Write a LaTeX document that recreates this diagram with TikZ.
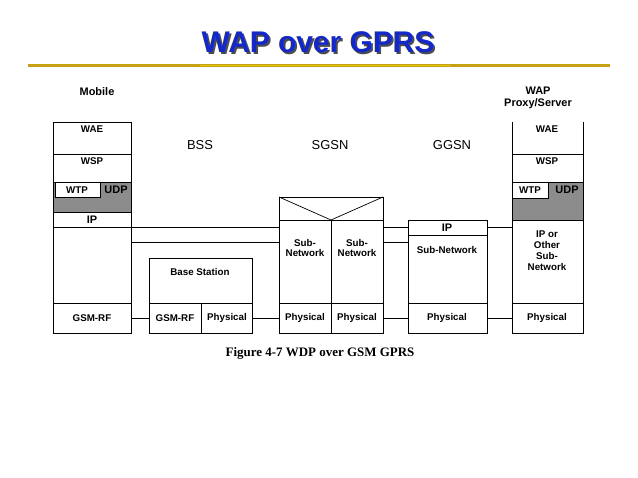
\documentclass[tikz,border=0pt]{standalone}
\usepackage{fontspec}
\setmainfont{Liberation Sans}
\newfontfamily\serifb{Liberation Serif}
\begin{document}
\begin{tikzpicture}[x=1bp,y=-1bp,line width=0.7bp,
  lbl/.style={font=\bfseries\fontsize{9.8}{11}\selectfont,align=center,inner sep=0},
  big/.style={font=\bfseries\fontsize{11}{12.5}\selectfont,align=center,inner sep=0},
  hdr/.style={font=\fontsize{13}{15}\selectfont,inner sep=0}]
\useasboundingbox (0,0) rectangle (638,478);
\definecolor{titleblue}{RGB}{20,40,200}
\definecolor{gold}{RGB}{200,160,20}
% title
\node[font=\bfseries\fontsize{30}{33}\selectfont,text=black!70] (tsh) at (320,44) {WAP over GPRS};
\node[font=\bfseries\fontsize{30}{33}\selectfont,text=titleblue] (title) at (318,42) {WAP over GPRS};
\fill[gold] (28,64.5) rectangle (610,67.5);
\fill[gold!60!yellow] (200,65) rectangle (450,66.5);
% headers
\node[big] (mob) at (97,92) {Mobile};
\node[big] (wap) at (538,98) {WAP\\Proxy/Server};
\node[hdr] (bss) at (200,145) {BSS};
\node[hdr] (sgsn) at (330,145) {SGSN};
\node[hdr] (ggsn) at (452,145) {GGSN};
% mobile
\fill[black!45] (53,182) rectangle (131,212);
\draw (53,122) rectangle (131,333);
\draw (53,154) -- (131,154) (53,182) -- (131,182) (53,212) -- (131,212) (53,227) -- (131,227) (53,303) -- (131,303);
\draw[fill=white] (55,182) rectangle (100,197);
\node[lbl] (m1) at (92,129) {WAE};
\node[lbl] (m2) at (92,161) {WSP};
\node[lbl] (m3) at (77,190) {WTP};
\node[big] (m4) at (116,190) {UDP};
\node[big] (m5) at (92,220) {IP};
\node[lbl] (m6) at (92,318) {GSM-RF};
% base station
\draw (149,258) rectangle (252,333);
\draw (149,303) -- (252,303) (201,303) -- (201,333);
\node[lbl] (bs) at (200,272) {Base Station};
\node[lbl] (b1) at (175,318) {GSM-RF};
\node[lbl] (b2) at (227,318) {Physical};
% sgsn
\draw (279,197) rectangle (383,333);
\draw (279,220) -- (383,220) (331,220) -- (331,333) (279,303) -- (383,303);
\draw (279,197) -- (331,220) -- (383,197);
\node[lbl] (s1) at (305,248) {Sub-\\Network};
\node[lbl] (s2) at (357,248) {Sub-\\Network};
\node[lbl] (s3) at (305,318) {Physical};
\node[lbl] (s4) at (357,318) {Physical};
% ggsn
\draw (408,220) rectangle (487,333);
\draw (408,235) -- (487,235) (408,303) -- (487,303);
\node[big] (g1) at (447,228) {IP};
\node[lbl] (g2) at (447,250) {Sub-Network};
\node[lbl] (g3) at (447,318) {Physical};
% server
\fill[black!45] (512,182) rectangle (583,220);
\draw (512,122) -- (512,333) -- (583,333) -- (583,122);
\draw (512,154) -- (583,154) (512,182) -- (583,182) (512,220) -- (583,220) (512,303) -- (583,303);
\draw[fill=white] (512,182) rectangle (548,198);
\node[lbl] (w1) at (547,129) {WAE};
\node[lbl] (w2) at (547,161) {WSP};
\node[lbl] (w3) at (530,190) {WTP};
\node[big] (w4) at (567,190) {UDP};
\node[lbl] (w5) at (547,251) {IP or\\Other\\Sub-\\Network};
\node[lbl] (w6) at (547,318) {Physical};
% connectors
\coordinate (a1) at (131,227); \coordinate (a2) at (279,227);
\coordinate (a3) at (131,242); \coordinate (a4) at (279,242);
\draw (a1) -- (a2) (a3) -- (a4);
\draw (383,227) -- (408,227) (383,242) -- (408,242) (487,227) -- (512,227);
\draw (131,318) -- (149,318) (252,318) -- (279,318) (383,318) -- (408,318) (487,318) -- (512,318);
% caption
\node[font=\serifb\bfseries\fontsize{13}{15}\selectfont] (cap) at (320,353) {Figure 4-7 WDP over GSM GPRS};
\end{tikzpicture}
\end{document}
